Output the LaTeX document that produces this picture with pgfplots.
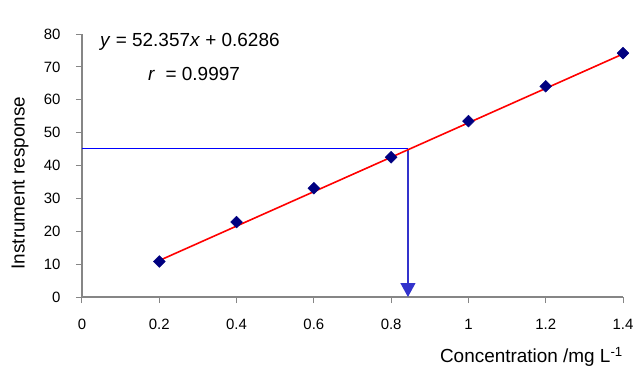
\documentclass[border=0pt]{standalone}
\usepackage{fontspec}
\setmainfont{Liberation Sans}
\usepackage{pgfplots}
\pgfplotsset{compat=1.18}
\usetikzlibrary{arrows.meta}
\definecolor{navy}{RGB}{0,0,128}
\definecolor{pureblue}{RGB}{0,0,255}
\definecolor{arrowblue}{RGB}{51,51,204}
\definecolor{axgray}{RGB}{134,134,134}
\begin{document}
\begin{tikzpicture}
\path[use as bounding box] (-82bp,-78bp) rectangle (555bp,297bp);
\begin{axis}[
  at={(0,0)}, anchor=south west,
  scale only axis, width=541bp, height=263bp,
  xmin=0, xmax=1.4, ymin=0, ymax=80,
  axis x line*=bottom, axis y line*=left,
  xtick={0,0.2,0.4,0.6,0.8,1,1.2,1.4},
  xticklabels={0,0.2,0.4,0.6,0.8,1,1.2,1.4},
  ytick={0,10,20,30,40,50,60,70,80},
  yticklabels={0,10,20,30,40,50,60,70,80},
  tick align=outside, major tick length=6bp,
  tick style={axgray, line width=1bp},
  axis line style={axgray, line width=1.2bp},
  ticklabel style={font=\fontsize{15}{17}\selectfont},
  /pgf/number format/assume math mode=true,
  xticklabel style={yshift=-13bp},
  yticklabel style={xshift=-12bp},
  xlabel={Concentration /mg L\textsuperscript{-1}},
  ylabel={Instrument response},
  every axis x label/.style={at={(axis description cs:1,-0.228)}, anchor=east, inner sep=0pt, font=\fontsize{19}{21}\selectfont},
  every axis y label/.style={at={(axis description cs:-0.1146,0.433)}, rotate=90, anchor=center, font=\fontsize{19}{21}\selectfont},
  clip=false,
]
\addplot[color=pureblue, line width=1.1bp] coordinates {(0,45.17) (0.8435,45.17)};
\addplot[color=arrowblue, line width=1.2bp, -{Triangle[width=15bp,length=14bp]}] coordinates {(0.8435,45.17) (0.8435,0)};
\addplot[only marks, mark=square*, mark size=4.2bp, mark options={rotate=45, fill=navy, draw=navy}] coordinates {
  (0.2,10.8) (0.4,22.8) (0.6,33.1) (0.8,42.5) (1.0,53.5) (1.2,64.1) (1.4,74.2)
};
\addplot[color=red, line width=1.6bp] coordinates {(0.2,11.10) (1.4,73.93)};
\node[anchor=base west, inner sep=0pt, font=\fontsize{19}{21}\selectfont] at (axis description cs:0.0333,0.954) {\textit{y} = 52.357\textit{x} + 0.6286};
\node[anchor=base west, inner sep=0pt, font=\fontsize{19}{21}\selectfont] at (axis description cs:0.122,0.825) {\textit{r}\ \ = 0.9997};
\end{axis}
\end{tikzpicture}
\end{document}
